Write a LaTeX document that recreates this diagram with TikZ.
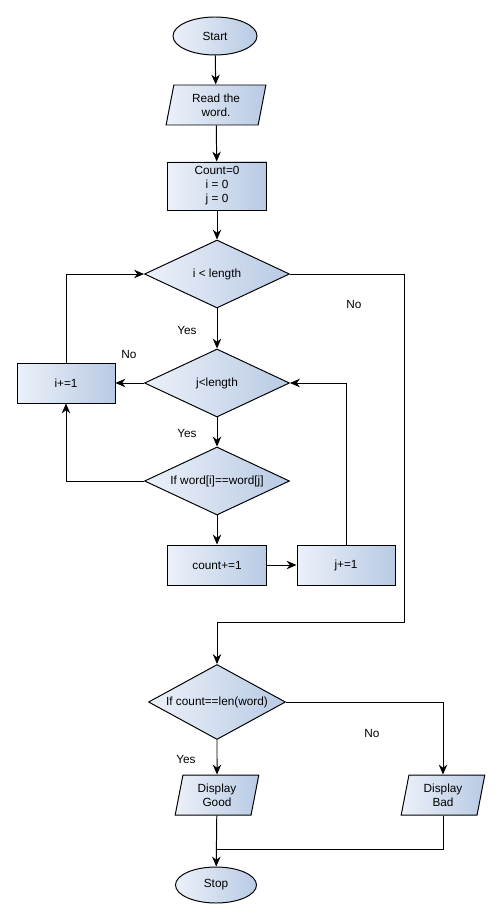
\documentclass[tikz,border=0pt]{standalone}
\usepackage{fontspec}
\setmainfont{Liberation Sans}
\usetikzlibrary{shapes.geometric}
\usetikzlibrary{arrows.meta,arrows}
\usetikzlibrary{calc}
\definecolor{boxlight}{RGB}{236,241,249}
\definecolor{boxdark}{RGB}{184,202,228}

\begin{document}
\begin{tikzpicture}[font=\fontsize{8.4}{10}\selectfont]
    \tikzset{line/.style={draw,line width=0.7pt}}
    \tikzset{arrow/.style={line,-{Stealth[length=7pt,width=6pt,inset=2.2pt]}}}
    \tikzset{shade/.style={left color=boxlight,right color=boxdark}}
    \tikzset{box/.style={line,shade,rectangle,inner sep=0pt,minimum width=2.475cm,minimum height=1cm,align=center}}
    \tikzset{term/.style={line,shade,ellipse,inner sep=0pt,minimum width=2.1cm,minimum height=0.95cm}}
    \tikzset{io/.style={line,shade,trapezium,trapezium left angle=79,trapezium right angle=101,inner sep=0pt,minimum width=2cm,minimum height=1cm,align=center}}
    \tikzset{decision/.style={line,shade,diamond,inner sep=0pt,aspect=2}}

    \useasboundingbox (0,0) rectangle (12.45,-23.075);

    \node[term] (start) at (5.375, -0.9) {Start};
    \node[io] (read) at (5.4, -2.625) {Read the\\word.};
    \node[box,minimum height=1.2cm] (init) at (5.425, -4.65) {Count=0\\i = 0\\j = 0};

    \node[decision,minimum width=3.625cm,minimum height=1.7cm] (outer) at (5.425, -6.85) {i < length};
    \node[decision,minimum width=3.625cm,minimum height=1.7cm] (inner) at (5.425, -9.575) {j<length};
    \node[decision,minimum width=3.625cm,minimum height=1.7cm] (same) at (5.425, -12.025) {If word[i]==word[j]};
    \node[box,minimum width=2.45cm] (inci) at (1.65, -9.575) {i+=1};
    \node[box] (count) at (5.425, -14.125) {count+=1};
    \node[box,minimum width=2.45cm] (incj) at (8.65, -14.125) {j+=1};

    \node[decision,minimum width=3.425cm,minimum height=1.875cm] (check) at (5.425, -17.55) {If count==len(word)};
    \node[io] (good) at (5.425, -19.875) {Display\\Good};
    \node[io] (bad) at (11.075, -19.875) {Display\\Bad};
    \node[term,minimum width=2.025cm,minimum height=0.9cm] (stop) at (5.4, -22.125) {Stop};

    \coordinate (exit) at (10.1, -15.55);
    \coordinate (merge) at (5.425, -21.225);

    \path[arrow] (start) to (read);
    \path[arrow] (read) to (init);
    \path[arrow] (init) to (outer);
    \path[arrow] (outer) to (inner);
    \path[arrow] (inner) to (same);
    \path[arrow] (same) to (count);
    \path[arrow] (count) to (incj);
    \path[arrow] (inner.west) to (inci.east);
    \draw[arrow] (inci.north) |- (outer.west);
    \draw[arrow] (same.west) -| (inci.south);
    \draw[arrow] (incj.north) |- (inner.east);
    \draw[arrow] (outer.east) -| (exit) -| (check.north);
    \draw[arrow] (check.east) -| (bad.north);
    \path[arrow] (check) to (good);
    \draw[line] (bad.south) |- (merge);
    \path[arrow] (good) to (stop);

    \node (no1) at (8.85, -7.6) {No};
    \node (yes1) at (4.675, -8.25) {Yes};
    \node (no2) at (3.225, -8.85) {No};
    \node (yes2) at (4.675, -10.825) {Yes};
    \node (no3) at (9.3, -18.325) {No};
    \node (yes3) at (4.65, -18.975) {Yes};
\end{tikzpicture}
\end{document}
